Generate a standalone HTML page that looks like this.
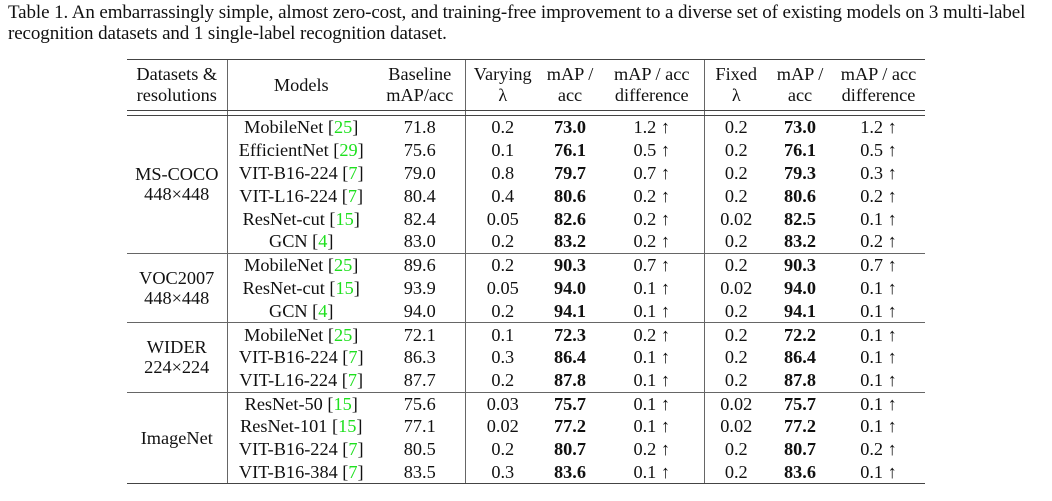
<!DOCTYPE html>
<html><head><meta charset="utf-8"><style>
body{margin:0;width:1052px;height:501px;background:#fff;font-family:"Liberation Serif",serif;color:#111;position:relative;overflow:hidden}
.cap{position:absolute;left:8px;top:2px;font-size:19px;line-height:21px;width:1044px;letter-spacing:-0.1px}
table{position:absolute;left:127px;top:59px;border-collapse:collapse;table-layout:fixed;font-size:18.3px}
td{padding:0;text-align:center;white-space:nowrap;line-height:20px}
.top td{border-top:1px solid #444}
.hd td{height:50px;line-height:21px;border-bottom:1px solid #444}
.sp td{height:4px;border-bottom:1px solid #444}
.r td{height:22.8px}
.r2 td{height:22.6px}
.sec td{border-top:1px solid #666}
.bot td,td.bb{border-bottom:1px solid #444}
.vl{border-left:1px solid #666}
b{font-weight:bold}
.g{color:#1ee01e}
</style></head><body>
<div class="cap">Table 1. An embarrassingly simple, almost zero-cost, and training-free improvement to a diverse set of existing models on 3 multi-label recognition datasets and 1 single-label recognition dataset.</div>
<table>
<colgroup><col style="width:100px"><col style="width:148px"><col style="width:90px"><col style="width:75px"><col style="width:60px"><col style="width:104px"><col style="width:64px"><col style="width:64px"><col style="width:93px"></colgroup>
<tr class="hd top"><td>Datasets &amp;<br>resolutions</td><td class="vl">Models</td><td>Baseline<br>mAP/acc</td><td class="vl">Varying<br>λ</td><td>mAP /<br>acc</td><td>mAP / acc<br>difference</td><td class="vl">Fixed<br>λ</td><td>mAP /<br>acc</td><td>mAP / acc<br>difference</td></tr>
<tr class="sp"><td></td><td class="vl"></td><td></td><td class="vl"></td><td></td><td></td><td class="vl"></td><td></td><td></td></tr>
<tr class="r"><td rowspan="6">MS-COCO<br>448×448</td><td class="vl">MobileNet [<span class="g">25</span>]</td><td>71.8</td><td class="vl">0.2</td><td><b>73.0</b></td><td>1.2 ↑</td><td class="vl">0.2</td><td><b>73.0</b></td><td>1.2 ↑</td></tr>
<tr class="r"><td class="vl">EfficientNet [<span class="g">29</span>]</td><td>75.6</td><td class="vl">0.1</td><td><b>76.1</b></td><td>0.5 ↑</td><td class="vl">0.2</td><td><b>76.1</b></td><td>0.5 ↑</td></tr>
<tr class="r"><td class="vl">VIT-B16-224 [<span class="g">7</span>]</td><td>79.0</td><td class="vl">0.8</td><td><b>79.7</b></td><td>0.7 ↑</td><td class="vl">0.2</td><td><b>79.3</b></td><td>0.3 ↑</td></tr>
<tr class="r"><td class="vl">VIT-L16-224 [<span class="g">7</span>]</td><td>80.4</td><td class="vl">0.4</td><td><b>80.6</b></td><td>0.2 ↑</td><td class="vl">0.2</td><td><b>80.6</b></td><td>0.2 ↑</td></tr>
<tr class="r"><td class="vl">ResNet-cut [<span class="g">15</span>]</td><td>82.4</td><td class="vl">0.05</td><td><b>82.6</b></td><td>0.2 ↑</td><td class="vl">0.02</td><td><b>82.5</b></td><td>0.1 ↑</td></tr>
<tr class="r"><td class="vl">GCN [<span class="g">4</span>]</td><td>83.0</td><td class="vl">0.2</td><td><b>83.2</b></td><td>0.2 ↑</td><td class="vl">0.2</td><td><b>83.2</b></td><td>0.2 ↑</td></tr>
<tr class="r sec"><td rowspan="3">VOC2007<br>448×448</td><td class="vl">MobileNet [<span class="g">25</span>]</td><td>89.6</td><td class="vl">0.2</td><td><b>90.3</b></td><td>0.7 ↑</td><td class="vl">0.2</td><td><b>90.3</b></td><td>0.7 ↑</td></tr>
<tr class="r"><td class="vl">ResNet-cut [<span class="g">15</span>]</td><td>93.9</td><td class="vl">0.05</td><td><b>94.0</b></td><td>0.1 ↑</td><td class="vl">0.02</td><td><b>94.0</b></td><td>0.1 ↑</td></tr>
<tr class="r"><td class="vl">GCN [<span class="g">4</span>]</td><td>94.0</td><td class="vl">0.2</td><td><b>94.1</b></td><td>0.1 ↑</td><td class="vl">0.2</td><td><b>94.1</b></td><td>0.1 ↑</td></tr>
<tr class="r sec"><td rowspan="3">WIDER<br>224×224</td><td class="vl">MobileNet [<span class="g">25</span>]</td><td>72.1</td><td class="vl">0.1</td><td><b>72.3</b></td><td>0.2 ↑</td><td class="vl">0.2</td><td><b>72.2</b></td><td>0.1 ↑</td></tr>
<tr class="r"><td class="vl">VIT-B16-224 [<span class="g">7</span>]</td><td>86.3</td><td class="vl">0.3</td><td><b>86.4</b></td><td>0.1 ↑</td><td class="vl">0.2</td><td><b>86.4</b></td><td>0.1 ↑</td></tr>
<tr class="r"><td class="vl">VIT-L16-224 [<span class="g">7</span>]</td><td>87.7</td><td class="vl">0.2</td><td><b>87.8</b></td><td>0.1 ↑</td><td class="vl">0.2</td><td><b>87.8</b></td><td>0.1 ↑</td></tr>
<tr class="r2 sec"><td rowspan="4" class="bb">ImageNet</td><td class="vl">ResNet-50 [<span class="g">15</span>]</td><td>75.6</td><td class="vl">0.03</td><td><b>75.7</b></td><td>0.1 ↑</td><td class="vl">0.02</td><td><b>75.7</b></td><td>0.1 ↑</td></tr>
<tr class="r2"><td class="vl">ResNet-101 [<span class="g">15</span>]</td><td>77.1</td><td class="vl">0.02</td><td><b>77.2</b></td><td>0.1 ↑</td><td class="vl">0.02</td><td><b>77.2</b></td><td>0.1 ↑</td></tr>
<tr class="r2"><td class="vl">VIT-B16-224 [<span class="g">7</span>]</td><td>80.5</td><td class="vl">0.2</td><td><b>80.7</b></td><td>0.2 ↑</td><td class="vl">0.2</td><td><b>80.7</b></td><td>0.2 ↑</td></tr>
<tr class="r2 bot"><td class="vl">VIT-B16-384 [<span class="g">7</span>]</td><td>83.5</td><td class="vl">0.3</td><td><b>83.6</b></td><td>0.1 ↑</td><td class="vl">0.2</td><td><b>83.6</b></td><td>0.1 ↑</td></tr>
</table>
</body></html>
